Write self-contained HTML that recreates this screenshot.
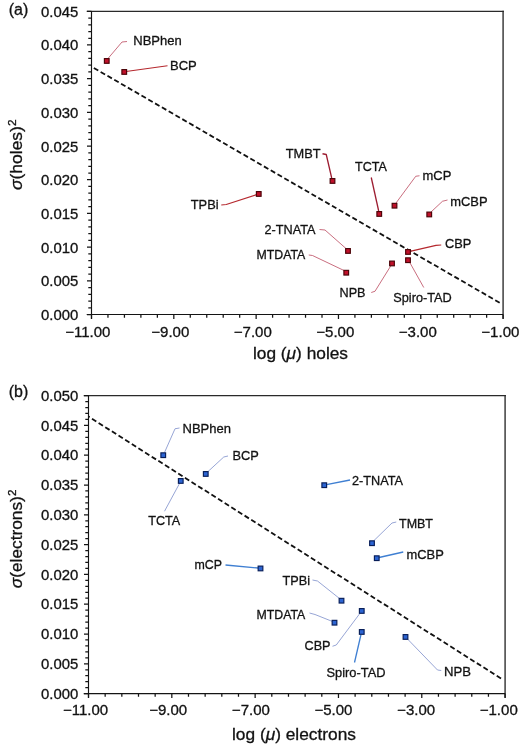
<!DOCTYPE html>
<html><head><meta charset="utf-8"><title>Figure</title>
<style>html,body{margin:0;padding:0;background:#fff}svg{display:block}</style></head>
<body>
<svg width="520" height="745" viewBox="0 0 520 745" font-family="Liberation Sans, Arial, Helvetica, sans-serif">
<style>text{stroke:#111;stroke-width:0.3px;paint-order:stroke}</style>
<rect width="520" height="745" fill="#fff"/>
<path d="M503.1 10.700000000000001V318.7" fill="none" stroke="#4a4a4a" stroke-width="1.6"/>
<path d="M86.7 11.3H503.90000000000003" fill="none" stroke="#2a2a2a" stroke-width="1.25"/>
<path d="M91.5 11.3V318.7M86.7 314.5H503.1" fill="none" stroke="#141414" stroke-width="1.15"/>
<path d="M87.00 11.30H91.5M88.30 18.04H91.5M88.30 24.78H91.5M88.30 31.51H91.5M88.30 38.25H91.5M87.00 44.99H91.5M88.30 51.73H91.5M88.30 58.46H91.5M88.30 65.20H91.5M88.30 71.94H91.5M87.00 78.68H91.5M88.30 85.42H91.5M88.30 92.15H91.5M88.30 98.89H91.5M88.30 105.63H91.5M87.00 112.37H91.5M88.30 119.10H91.5M88.30 125.84H91.5M88.30 132.58H91.5M88.30 139.32H91.5M87.00 146.06H91.5M88.30 152.79H91.5M88.30 159.53H91.5M88.30 166.27H91.5M88.30 173.01H91.5M87.00 179.74H91.5M88.30 186.48H91.5M88.30 193.22H91.5M88.30 199.96H91.5M88.30 206.70H91.5M87.00 213.43H91.5M88.30 220.17H91.5M88.30 226.91H91.5M88.30 233.65H91.5M88.30 240.38H91.5M87.00 247.12H91.5M88.30 253.86H91.5M88.30 260.60H91.5M88.30 267.34H91.5M88.30 274.07H91.5M87.00 280.81H91.5M88.30 287.55H91.5M88.30 294.29H91.5M88.30 301.02H91.5M88.30 307.76H91.5M87.00 314.50H91.5" stroke="#141414" stroke-width="1.25" fill="none"/>
<path d="M91.50 314.5V319.00M107.96 314.5V317.70M124.43 314.5V317.70M140.89 314.5V317.70M157.36 314.5V317.70M173.82 314.5V319.00M190.28 314.5V317.70M206.75 314.5V317.70M223.21 314.5V317.70M239.68 314.5V317.70M256.14 314.5V319.00M272.60 314.5V317.70M289.07 314.5V317.70M305.53 314.5V317.70M322.00 314.5V317.70M338.46 314.5V319.00M354.92 314.5V317.70M371.39 314.5V317.70M387.85 314.5V317.70M404.32 314.5V317.70M420.78 314.5V319.00M437.24 314.5V317.70M453.71 314.5V317.70M470.17 314.5V317.70M486.64 314.5V317.70M503.10 314.5V319.00" stroke="#141414" stroke-width="1.25" fill="none"/>
<text x="41.0" y="16.80" font-size="14.5" textLength="37.3" lengthAdjust="spacingAndGlyphs" fill="#111">0.045</text>
<text x="41.0" y="50.49" font-size="14.5" textLength="37.3" lengthAdjust="spacingAndGlyphs" fill="#111">0.040</text>
<text x="41.0" y="84.18" font-size="14.5" textLength="37.3" lengthAdjust="spacingAndGlyphs" fill="#111">0.035</text>
<text x="41.0" y="117.87" font-size="14.5" textLength="37.3" lengthAdjust="spacingAndGlyphs" fill="#111">0.030</text>
<text x="41.0" y="151.56" font-size="14.5" textLength="37.3" lengthAdjust="spacingAndGlyphs" fill="#111">0.025</text>
<text x="41.0" y="185.24" font-size="14.5" textLength="37.3" lengthAdjust="spacingAndGlyphs" fill="#111">0.020</text>
<text x="41.0" y="218.93" font-size="14.5" textLength="37.3" lengthAdjust="spacingAndGlyphs" fill="#111">0.015</text>
<text x="41.0" y="252.62" font-size="14.5" textLength="37.3" lengthAdjust="spacingAndGlyphs" fill="#111">0.010</text>
<text x="41.0" y="286.31" font-size="14.5" textLength="37.3" lengthAdjust="spacingAndGlyphs" fill="#111">0.005</text>
<text x="41.0" y="320.00" font-size="14.5" textLength="37.3" lengthAdjust="spacingAndGlyphs" fill="#111">0.000</text>
<text x="65.15" y="336.8" font-size="14.5" textLength="45.2" lengthAdjust="spacingAndGlyphs" fill="#111">−11.00</text>
<text x="151.27" y="336.8" font-size="14.5" textLength="38.0" lengthAdjust="spacingAndGlyphs" fill="#111">−9.00</text>
<text x="233.79" y="336.8" font-size="14.5" textLength="38.0" lengthAdjust="spacingAndGlyphs" fill="#111">−7.00</text>
<text x="316.31" y="336.8" font-size="14.5" textLength="38.0" lengthAdjust="spacingAndGlyphs" fill="#111">−5.00</text>
<text x="398.83" y="336.8" font-size="14.5" textLength="38.0" lengthAdjust="spacingAndGlyphs" fill="#111">−3.00</text>
<text x="481.35" y="336.8" font-size="14.5" textLength="38.0" lengthAdjust="spacingAndGlyphs" fill="#111">−1.00</text>
<path d="M93.85 67.97L500.4 303.2" stroke="#111" stroke-width="1.8" stroke-dasharray="5.1 2.76" stroke-dashoffset="0" fill="none"/>
<path d="M108 58.5L122 42L127 41.5" stroke="#bf5468" stroke-width="0.85" fill="none" stroke-linejoin="round"/>
<path d="M126 71.5L167.5 65.75" stroke="#b5282e" stroke-width="1.25" fill="none" stroke-linejoin="round"/>
<path d="M322.5 153.75L326.25 154.5L331.7 178" stroke="#9c1c30" stroke-width="1.3" fill="none" stroke-linejoin="round"/>
<path d="M371.25 177.5L378.7 211" stroke="#9c1c30" stroke-width="1.3" fill="none" stroke-linejoin="round"/>
<path d="M396 203L415.75 176.25L419.5 175.75" stroke="#bf5468" stroke-width="0.85" fill="none" stroke-linejoin="round"/>
<path d="M431 212L442.5 201.25L447.5 200" stroke="#bf5468" stroke-width="0.85" fill="none" stroke-linejoin="round"/>
<path d="M221.25 205L226.25 204.5L257 194.5" stroke="#b5282e" stroke-width="1.25" fill="none" stroke-linejoin="round"/>
<path d="M319.5 229.5L325 230L346 248.5" stroke="#bf5468" stroke-width="0.85" fill="none" stroke-linejoin="round"/>
<path d="M308.75 255L312.5 255.5L344 270.5" stroke="#bf5468" stroke-width="0.85" fill="none" stroke-linejoin="round"/>
<path d="M371.25 292.5L375 291.25L391 265.5" stroke="#bf5468" stroke-width="0.85" fill="none" stroke-linejoin="round"/>
<path d="M441.25 245L436 245.3L410 251.3" stroke="#b5282e" stroke-width="1.25" fill="none" stroke-linejoin="round"/>
<path d="M409.5 262L423.75 287.5" stroke="#bf5468" stroke-width="0.85" fill="none" stroke-linejoin="round"/>
<rect x="104.40" y="58.60" width="4.7" height="4.7" fill="#c0102a" stroke="#4a0408" stroke-width="1.15"/>
<rect x="121.90" y="69.60" width="4.7" height="4.7" fill="#c0102a" stroke="#4a0408" stroke-width="1.15"/>
<rect x="330.15" y="178.60" width="4.7" height="4.7" fill="#c0102a" stroke="#4a0408" stroke-width="1.15"/>
<rect x="376.90" y="211.60" width="4.7" height="4.7" fill="#c0102a" stroke="#4a0408" stroke-width="1.15"/>
<rect x="392.15" y="203.35" width="4.7" height="4.7" fill="#c0102a" stroke="#4a0408" stroke-width="1.15"/>
<rect x="426.90" y="212.10" width="4.7" height="4.7" fill="#c0102a" stroke="#4a0408" stroke-width="1.15"/>
<rect x="256.40" y="191.60" width="4.7" height="4.7" fill="#c0102a" stroke="#4a0408" stroke-width="1.15"/>
<rect x="345.65" y="248.60" width="4.7" height="4.7" fill="#c0102a" stroke="#4a0408" stroke-width="1.15"/>
<rect x="343.90" y="270.35" width="4.7" height="4.7" fill="#c0102a" stroke="#4a0408" stroke-width="1.15"/>
<rect x="389.65" y="261.10" width="4.7" height="4.7" fill="#c0102a" stroke="#4a0408" stroke-width="1.15"/>
<rect x="405.65" y="249.60" width="4.7" height="4.7" fill="#c0102a" stroke="#4a0408" stroke-width="1.15"/>
<rect x="405.65" y="257.85" width="4.7" height="4.7" fill="#c0102a" stroke="#4a0408" stroke-width="1.15"/>
<text x="133.25" y="44.70" font-size="13.5" textLength="48.50" lengthAdjust="spacingAndGlyphs" fill="#111">NBPhen</text>
<text x="170.00" y="69.70" font-size="13.5" textLength="26.80" lengthAdjust="spacingAndGlyphs" fill="#111">BCP</text>
<text x="285.75" y="157.95" font-size="13.5" textLength="34.80" lengthAdjust="spacingAndGlyphs" fill="#111">TMBT</text>
<text x="355.00" y="171.45" font-size="13.5" textLength="31.80" lengthAdjust="spacingAndGlyphs" fill="#111">TCTA</text>
<text x="422.50" y="179.70" font-size="13.5" textLength="28.80" lengthAdjust="spacingAndGlyphs" fill="#111">mCP</text>
<text x="450.25" y="205.95" font-size="13.5" textLength="37.30" lengthAdjust="spacingAndGlyphs" fill="#111">mCBP</text>
<text x="190.75" y="208.95" font-size="13.5" textLength="27.80" lengthAdjust="spacingAndGlyphs" fill="#111">TPBi</text>
<text x="264.50" y="234.20" font-size="13.5" textLength="51.00" lengthAdjust="spacingAndGlyphs" fill="#111">2-TNATA</text>
<text x="256.50" y="259.20" font-size="13.5" textLength="48.80" lengthAdjust="spacingAndGlyphs" fill="#111">MTDATA</text>
<text x="339.50" y="297.20" font-size="13.5" textLength="26.00" lengthAdjust="spacingAndGlyphs" fill="#111">NPB</text>
<text x="445.00" y="248.45" font-size="13.5" textLength="26.30" lengthAdjust="spacingAndGlyphs" fill="#111">CBP</text>
<text x="393.25" y="301.70" font-size="13.5" textLength="58.50" lengthAdjust="spacingAndGlyphs" fill="#111">Spiro-TAD</text>
<path d="M505.1 395.0V697.8000000000001" fill="none" stroke="#4a4a4a" stroke-width="1.6"/>
<path d="M83.7 395.6H505.90000000000003" fill="none" stroke="#2a2a2a" stroke-width="1.25"/>
<path d="M88.5 395.6V697.8000000000001M83.7 693.6H505.1" fill="none" stroke="#141414" stroke-width="1.15"/>
<path d="M84.00 395.60H88.5M85.30 401.56H88.5M85.30 407.52H88.5M85.30 413.48H88.5M85.30 419.44H88.5M84.00 425.40H88.5M85.30 431.36H88.5M85.30 437.32H88.5M85.30 443.28H88.5M85.30 449.24H88.5M84.00 455.20H88.5M85.30 461.16H88.5M85.30 467.12H88.5M85.30 473.08H88.5M85.30 479.04H88.5M84.00 485.00H88.5M85.30 490.96H88.5M85.30 496.92H88.5M85.30 502.88H88.5M85.30 508.84H88.5M84.00 514.80H88.5M85.30 520.76H88.5M85.30 526.72H88.5M85.30 532.68H88.5M85.30 538.64H88.5M84.00 544.60H88.5M85.30 550.56H88.5M85.30 556.52H88.5M85.30 562.48H88.5M85.30 568.44H88.5M84.00 574.40H88.5M85.30 580.36H88.5M85.30 586.32H88.5M85.30 592.28H88.5M85.30 598.24H88.5M84.00 604.20H88.5M85.30 610.16H88.5M85.30 616.12H88.5M85.30 622.08H88.5M85.30 628.04H88.5M84.00 634.00H88.5M85.30 639.96H88.5M85.30 645.92H88.5M85.30 651.88H88.5M85.30 657.84H88.5M84.00 663.80H88.5M85.30 669.76H88.5M85.30 675.72H88.5M85.30 681.68H88.5M85.30 687.64H88.5M84.00 693.60H88.5" stroke="#141414" stroke-width="1.25" fill="none"/>
<path d="M88.50 693.6V698.10M105.16 693.6V696.80M121.83 693.6V696.80M138.49 693.6V696.80M155.16 693.6V696.80M171.82 693.6V698.10M188.48 693.6V696.80M205.15 693.6V696.80M221.81 693.6V696.80M238.48 693.6V696.80M255.14 693.6V698.10M271.80 693.6V696.80M288.47 693.6V696.80M305.13 693.6V696.80M321.80 693.6V696.80M338.46 693.6V698.10M355.12 693.6V696.80M371.79 693.6V696.80M388.45 693.6V696.80M405.12 693.6V696.80M421.78 693.6V698.10M438.44 693.6V696.80M455.11 693.6V696.80M471.77 693.6V696.80M488.44 693.6V696.80M505.10 693.6V698.10" stroke="#141414" stroke-width="1.25" fill="none"/>
<text x="41.0" y="400.70" font-size="14.5" textLength="37.3" lengthAdjust="spacingAndGlyphs" fill="#111">0.050</text>
<text x="41.0" y="430.50" font-size="14.5" textLength="37.3" lengthAdjust="spacingAndGlyphs" fill="#111">0.045</text>
<text x="41.0" y="460.30" font-size="14.5" textLength="37.3" lengthAdjust="spacingAndGlyphs" fill="#111">0.040</text>
<text x="41.0" y="490.10" font-size="14.5" textLength="37.3" lengthAdjust="spacingAndGlyphs" fill="#111">0.035</text>
<text x="41.0" y="519.90" font-size="14.5" textLength="37.3" lengthAdjust="spacingAndGlyphs" fill="#111">0.030</text>
<text x="41.0" y="549.70" font-size="14.5" textLength="37.3" lengthAdjust="spacingAndGlyphs" fill="#111">0.025</text>
<text x="41.0" y="579.50" font-size="14.5" textLength="37.3" lengthAdjust="spacingAndGlyphs" fill="#111">0.020</text>
<text x="41.0" y="609.30" font-size="14.5" textLength="37.3" lengthAdjust="spacingAndGlyphs" fill="#111">0.015</text>
<text x="41.0" y="639.10" font-size="14.5" textLength="37.3" lengthAdjust="spacingAndGlyphs" fill="#111">0.010</text>
<text x="41.0" y="668.90" font-size="14.5" textLength="37.3" lengthAdjust="spacingAndGlyphs" fill="#111">0.005</text>
<text x="41.0" y="698.70" font-size="14.5" textLength="37.3" lengthAdjust="spacingAndGlyphs" fill="#111">0.000</text>
<text x="63.00" y="714.5" font-size="14.5" textLength="45.2" lengthAdjust="spacingAndGlyphs" fill="#111">−11.00</text>
<text x="149.23" y="714.5" font-size="14.5" textLength="38.0" lengthAdjust="spacingAndGlyphs" fill="#111">−9.00</text>
<text x="231.86" y="714.5" font-size="14.5" textLength="38.0" lengthAdjust="spacingAndGlyphs" fill="#111">−7.00</text>
<text x="314.49" y="714.5" font-size="14.5" textLength="38.0" lengthAdjust="spacingAndGlyphs" fill="#111">−5.00</text>
<text x="397.12" y="714.5" font-size="14.5" textLength="38.0" lengthAdjust="spacingAndGlyphs" fill="#111">−3.00</text>
<text x="479.75" y="714.5" font-size="14.5" textLength="38.0" lengthAdjust="spacingAndGlyphs" fill="#111">−1.00</text>
<path d="M88.5 416.5L502.3 679.3" stroke="#111" stroke-width="1.8" stroke-dasharray="5.1 2.76" stroke-dashoffset="3.73" fill="none"/>
<path d="M164.5 452.5L175 428.75L179.5 428" stroke="#8b9bd0" stroke-width="0.9" fill="none" stroke-linejoin="round"/>
<path d="M207.5 472L223.75 457L228 456" stroke="#8b9bd0" stroke-width="0.9" fill="none" stroke-linejoin="round"/>
<path d="M179.5 483.5L164.5 511.25" stroke="#8b9bd0" stroke-width="0.9" fill="none" stroke-linejoin="round"/>
<path d="M225.5 565L258 568" stroke="#3f7fd2" stroke-width="1.3" fill="none" stroke-linejoin="round"/>
<path d="M312.5 580L317.5 581L339.5 598.5" stroke="#8b9bd0" stroke-width="0.9" fill="none" stroke-linejoin="round"/>
<path d="M309.5 613L315 614.5L332.5 621.5" stroke="#8b9bd0" stroke-width="0.9" fill="none" stroke-linejoin="round"/>
<path d="M360.2 613L336.25 645L332.5 646.25" stroke="#8b9bd0" stroke-width="0.9" fill="none" stroke-linejoin="round"/>
<path d="M361 634.5L354.5 662.5" stroke="#3f7fd2" stroke-width="1.3" fill="none" stroke-linejoin="round"/>
<path d="M407.5 639L437.5 670L441.25 670.5" stroke="#8b9bd0" stroke-width="0.9" fill="none" stroke-linejoin="round"/>
<path d="M326.5 484.7L350 480" stroke="#3f7fd2" stroke-width="1.3" fill="none" stroke-linejoin="round"/>
<path d="M373.5 541L392 523L396.25 522" stroke="#8b9bd0" stroke-width="0.9" fill="none" stroke-linejoin="round"/>
<path d="M379 557.5L403.25 552" stroke="#3f7fd2" stroke-width="1.3" fill="none" stroke-linejoin="round"/>
<rect x="160.90" y="452.85" width="4.7" height="4.7" fill="#2c64d2" stroke="#081e58" stroke-width="1.15"/>
<rect x="203.40" y="471.60" width="4.7" height="4.7" fill="#2c64d2" stroke="#081e58" stroke-width="1.15"/>
<rect x="178.40" y="478.60" width="4.7" height="4.7" fill="#2c64d2" stroke="#081e58" stroke-width="1.15"/>
<rect x="258.15" y="566.10" width="4.7" height="4.7" fill="#2c64d2" stroke="#081e58" stroke-width="1.15"/>
<rect x="339.15" y="598.35" width="4.7" height="4.7" fill="#2c64d2" stroke="#081e58" stroke-width="1.15"/>
<rect x="332.15" y="620.35" width="4.7" height="4.7" fill="#2c64d2" stroke="#081e58" stroke-width="1.15"/>
<rect x="359.40" y="608.60" width="4.7" height="4.7" fill="#2c64d2" stroke="#081e58" stroke-width="1.15"/>
<rect x="359.40" y="629.60" width="4.7" height="4.7" fill="#2c64d2" stroke="#081e58" stroke-width="1.15"/>
<rect x="403.15" y="634.60" width="4.7" height="4.7" fill="#2c64d2" stroke="#081e58" stroke-width="1.15"/>
<rect x="321.90" y="482.85" width="4.7" height="4.7" fill="#2c64d2" stroke="#081e58" stroke-width="1.15"/>
<rect x="369.65" y="540.85" width="4.7" height="4.7" fill="#2c64d2" stroke="#081e58" stroke-width="1.15"/>
<rect x="374.40" y="555.85" width="4.7" height="4.7" fill="#2c64d2" stroke="#081e58" stroke-width="1.15"/>
<text x="182.50" y="432.70" font-size="13.5" textLength="48.50" lengthAdjust="spacingAndGlyphs" fill="#111">NBPhen</text>
<text x="232.50" y="460.45" font-size="13.5" textLength="26.30" lengthAdjust="spacingAndGlyphs" fill="#111">BCP</text>
<text x="148.25" y="525.20" font-size="13.5" textLength="32.00" lengthAdjust="spacingAndGlyphs" fill="#111">TCTA</text>
<text x="194.50" y="569.20" font-size="13.5" textLength="27.50" lengthAdjust="spacingAndGlyphs" fill="#111">mCP</text>
<text x="282.50" y="584.70" font-size="13.5" textLength="27.50" lengthAdjust="spacingAndGlyphs" fill="#111">TPBi</text>
<text x="256.50" y="619.20" font-size="13.5" textLength="48.80" lengthAdjust="spacingAndGlyphs" fill="#111">MTDATA</text>
<text x="304.50" y="649.70" font-size="13.5" textLength="26.00" lengthAdjust="spacingAndGlyphs" fill="#111">CBP</text>
<text x="326.50" y="676.70" font-size="13.5" textLength="59.00" lengthAdjust="spacingAndGlyphs" fill="#111">Spiro-TAD</text>
<text x="444.00" y="676.45" font-size="13.5" textLength="27.00" lengthAdjust="spacingAndGlyphs" fill="#111">NPB</text>
<text x="352.00" y="485.45" font-size="13.5" textLength="51.00" lengthAdjust="spacingAndGlyphs" fill="#111">2-TNATA</text>
<text x="399.00" y="527.70" font-size="13.5" textLength="34.00" lengthAdjust="spacingAndGlyphs" fill="#111">TMBT</text>
<text x="406.50" y="558.95" font-size="13.5" textLength="37.30" lengthAdjust="spacingAndGlyphs" fill="#111">mCBP</text>
<text x="8.8" y="15" font-size="16" textLength="19.5" lengthAdjust="spacingAndGlyphs" fill="#111">(a)</text>
<text x="8.8" y="397" font-size="16" textLength="19.5" lengthAdjust="spacingAndGlyphs" fill="#111">(b)</text>
<text x="253" y="359.2" font-size="17" textLength="95" lengthAdjust="spacingAndGlyphs" fill="#111">log (<tspan font-style="italic">μ</tspan>) holes</text>
<text x="232" y="740" font-size="17" textLength="124" lengthAdjust="spacingAndGlyphs" fill="#111">log (<tspan font-style="italic">μ</tspan>) electrons</text>
<text transform="translate(21.5 190) rotate(-90)" font-size="17" textLength="70.5" lengthAdjust="spacingAndGlyphs" fill="#111"><tspan font-style="italic">σ</tspan>(holes)<tspan font-size="11.5" dy="-6">2</tspan></text>
<text transform="translate(21.8 588.2) rotate(-90)" font-size="17" textLength="98.6" lengthAdjust="spacingAndGlyphs" fill="#111"><tspan font-style="italic">σ</tspan>(electrons)<tspan font-size="11.5" dy="-6">2</tspan></text>
</svg>
</body></html>
